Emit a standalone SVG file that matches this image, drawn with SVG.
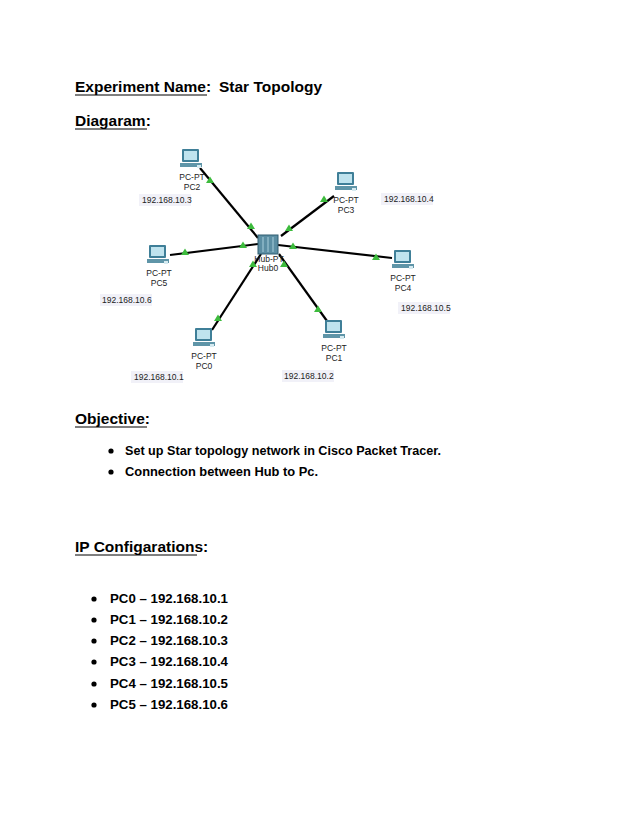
<svg xmlns="http://www.w3.org/2000/svg" width="638" height="826" viewBox="0 0 638 826">
<style>
.h{font-family:"Liberation Sans",Arial,sans-serif;font-weight:bold;font-size:15.5px;fill:#000}
.b{font-family:"Liberation Sans",Arial,sans-serif;font-weight:bold;font-size:13px;fill:#000}
.l{font-family:"Liberation Sans",Arial,sans-serif;font-size:8.5px;fill:#222;text-anchor:middle}
.ip{font-family:"Liberation Sans",Arial,sans-serif;font-size:8.5px;fill:#222}
.ipbg{fill:#f1f1f8}
.ln{stroke:#000;stroke-width:2.2}
.tri{fill:#3dbb3d}
</style>
<defs>
<g id="pc">
<rect x="2" y="0" width="17" height="13" rx="1" fill="#3f7f98"/>
<rect x="4" y="2" width="13" height="9" fill="#bfe3ee"/>
<rect x="0" y="14" width="22" height="4" fill="#5f95a8"/>
<rect x="17" y="16" width="4" height="3" fill="#d5eaf0"/>
</g>
<polygon id="t" points="0,-3.5 4,3 -4,3"/>
</defs>
<text class="h" x="75" y="92">Experiment Name:</text>
<line x1="75" y1="95" x2="207" y2="95" stroke="#000" stroke-width="1"/>
<text class="h" x="219" y="92">Star Topology</text>
<text class="h" x="75" y="126">Diagaram:</text>
<line x1="75" y1="129" x2="147" y2="129" stroke="#000" stroke-width="1"/>
<g id="connectors">
<line class="ln" x1="200" y1="168" x2="258" y2="238"/>
<line class="ln" x1="334" y1="196" x2="281" y2="236"/>
<line class="ln" x1="170" y1="255" x2="258" y2="244"/>
<line class="ln" x1="392" y1="258" x2="278" y2="245"/>
<line class="ln" x1="212" y1="330" x2="261" y2="254"/>
<line class="ln" x1="327" y1="321" x2="279" y2="254"/>
<use href="#t" class="tri" x="210" y="180"/>
<use href="#t" class="tri" x="251" y="226"/>
<use href="#t" class="tri" x="324" y="199"/>
<use href="#t" class="tri" x="289" y="228"/>
<use href="#t" class="tri" x="185" y="252"/>
<use href="#t" class="tri" x="243" y="245"/>
<use href="#t" class="tri" x="293" y="246"/>
<use href="#t" class="tri" x="376" y="257"/>
<use href="#t" class="tri" x="253" y="264"/>
<use href="#t" class="tri" x="218" y="318"/>
<use href="#t" class="tri" x="284" y="264"/>
<use href="#t" class="tri" x="318" y="309"/>
</g>
<g id="hub">
<rect x="258" y="235" width="20" height="19" fill="#5b8ea3" stroke="#2f5d70"/>
<line x1="263" y1="237" x2="263" y2="252" stroke="#a9cfdc"/>
<line x1="268" y1="237" x2="268" y2="252" stroke="#a9cfdc"/>
<line x1="273" y1="237" x2="273" y2="252" stroke="#a9cfdc"/>
<text class="l" x="269" y="262">Hub-PT</text>
<text class="l" x="268" y="271">Hub0</text>
</g>
<g id="pc2"><use href="#pc" x="180" y="149"/><text class="l" x="192" y="180">PC-PT</text><text class="l" x="192" y="190">PC2</text>
<rect class="ipbg" x="139" y="194" width="52" height="12"/><text class="ip" x="142" y="203">192.168.10.3</text></g>
<g id="pc3"><use href="#pc" x="335" y="172"/><text class="l" x="346" y="203">PC-PT</text><text class="l" x="346" y="213">PC3</text>
<rect class="ipbg" x="381" y="193" width="52" height="12"/><text class="ip" x="384" y="202">192.168.10.4</text></g>
<g id="pc5"><use href="#pc" x="147" y="245"/><text class="l" x="159" y="276">PC-PT</text><text class="l" x="159" y="286">PC5</text>
<rect class="ipbg" x="100" y="294" width="52" height="12"/><text class="ip" x="102" y="303">192.168.10.6</text></g>
<g id="pc4"><use href="#pc" x="392" y="250"/><text class="l" x="403" y="281">PC-PT</text><text class="l" x="403" y="291">PC4</text>
<rect class="ipbg" x="398" y="302" width="52" height="12"/><text class="ip" x="401" y="311">192.168.10.5</text></g>
<g id="pc0"><use href="#pc" x="193" y="328"/><text class="l" x="204" y="359">PC-PT</text><text class="l" x="204" y="369">PC0</text>
<rect class="ipbg" x="131" y="371" width="52" height="12"/><text class="ip" x="134" y="380">192.168.10.1</text></g>
<g id="pc1"><use href="#pc" x="323" y="320"/><text class="l" x="334" y="351">PC-PT</text><text class="l" x="334" y="361">PC1</text>
<rect class="ipbg" x="282" y="370" width="52" height="12"/><text class="ip" x="284" y="379">192.168.10.2</text></g>
<text class="h" x="75" y="424">Objective:</text>
<line x1="75" y1="427" x2="147" y2="427" stroke="#000" stroke-width="1"/>
<circle cx="111" cy="451" r="2.6"/><text class="b" x="125" y="455" textLength="316" lengthAdjust="spacingAndGlyphs">Set up Star topology network in Cisco Packet Tracer.</text>
<circle cx="111" cy="472" r="2.6"/><text class="b" x="125" y="476" textLength="193" lengthAdjust="spacingAndGlyphs">Connection between Hub to Pc.</text>
<text class="h" x="75" y="552">IP Configarations:</text>
<line x1="75" y1="555" x2="197" y2="555" stroke="#000" stroke-width="1"/>
<circle cx="94" cy="599" r="2.6"/><text class="b" x="110" y="603" textLength="118" lengthAdjust="spacingAndGlyphs">PC0 – 192.168.10.1</text>
<circle cx="94" cy="620" r="2.6"/><text class="b" x="110" y="624" textLength="118" lengthAdjust="spacingAndGlyphs">PC1 – 192.168.10.2</text>
<circle cx="94" cy="641" r="2.6"/><text class="b" x="110" y="645" textLength="118" lengthAdjust="spacingAndGlyphs">PC2 – 192.168.10.3</text>
<circle cx="94" cy="662" r="2.6"/><text class="b" x="110" y="666" textLength="118" lengthAdjust="spacingAndGlyphs">PC3 – 192.168.10.4</text>
<circle cx="94" cy="684" r="2.6"/><text class="b" x="110" y="688" textLength="118" lengthAdjust="spacingAndGlyphs">PC4 – 192.168.10.5</text>
<circle cx="94" cy="705" r="2.6"/><text class="b" x="110" y="709" textLength="118" lengthAdjust="spacingAndGlyphs">PC5 – 192.168.10.6</text>
</svg>
